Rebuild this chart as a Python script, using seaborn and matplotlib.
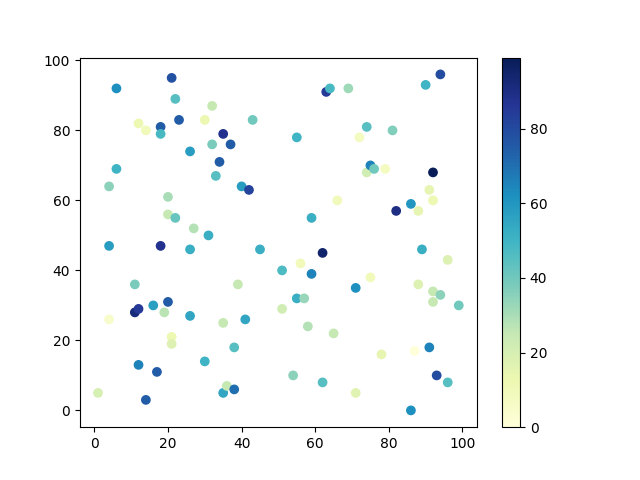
import numpy as np
import pandas as pd
import matplotlib
matplotlib.use("Agg")
import matplotlib.pyplot as plt
import seaborn as sns
from matplotlib.colors import Normalize
from matplotlib.cm import ScalarMappable

# Values
x_vals = [1, 4, 4, 4, 6, 6, 11, 11, 12, 12, 12, 14, 14, 16, 17, 18, 18, 18, 19, 20,
          20, 20, 21, 21, 21, 22, 22, 23, 26, 26, 26, 27, 30, 30, 31, 32, 32, 33, 34, 35,
          35, 35, 36, 37, 38, 38, 39, 40, 41, 42, 43, 45, 51, 51, 54, 55, 55, 56, 57, 58,
          59, 59, 62, 62, 63, 64, 65, 66, 69, 71, 71, 72, 74, 74, 75, 75, 76, 78, 79, 81,
          82, 86, 86, 87, 88, 88, 89, 90, 91, 91, 92, 92, 92, 92, 93, 94, 94, 96, 96, 99]
y_vals = [5, 26, 47, 64, 92, 69, 36, 28, 29, 13, 82, 80, 3, 30, 11, 81, 79, 47, 28, 61,
          56, 31, 95, 21, 19, 89, 55, 83, 74, 46, 27, 52, 83, 14, 50, 87, 76, 67, 71, 79,
          25, 5, 7, 76, 18, 6, 36, 64, 26, 63, 83, 46, 40, 29, 10, 78, 32, 42, 32, 24,
          55, 39, 45, 8, 91, 92, 22, 60, 92, 35, 5, 78, 81, 68, 70, 38, 69, 16, 69, 80,
          57, 59, 0, 17, 57, 36, 46, 93, 63, 18, 68, 60, 34, 31, 10, 33, 96, 43, 8, 30]
color_vals = [20, 5, 58, 35, 62, 50, 38, 92, 85, 65, 12, 10, 75, 57, 75, 75, 48, 88, 27, 30,
              25, 75, 78, 12, 18, 45, 42, 75, 58, 52, 55, 28, 13, 50, 52, 25, 38, 45, 75, 88,
              25, 55, 25, 75, 45, 70, 25, 58, 55, 82, 40, 52, 47, 22, 35, 50, 52, 10, 33, 28,
              52, 65, 95, 45, 85, 48, 25, 10, 32, 62, 17, 8, 45, 22, 65, 10, 40, 15, 8, 37,
              90, 60, 62, 0, 15, 18, 52, 50, 15, 65, 99, 12, 25, 25, 80, 35, 80, 18, 45, 40]

df = pd.DataFrame({"x": x_vals, "y": y_vals, "c": color_vals})

fig, ax = plt.subplots(figsize=(6.4, 4.8), dpi=100)

norm = Normalize(vmin=min(color_vals), vmax=max(color_vals))
sns.scatterplot(data=df, x="x", y="y", hue="c", palette="YlGnBu", hue_norm=norm,
                s=36, linewidth=1, edgecolor="face", legend=False, ax=ax)
ax.set_xlabel("")
ax.set_ylabel("")

sm = ScalarMappable(norm=norm, cmap="YlGnBu")
fig.colorbar(sm, ax=ax)

fig.savefig("out.png", dpi=100)
